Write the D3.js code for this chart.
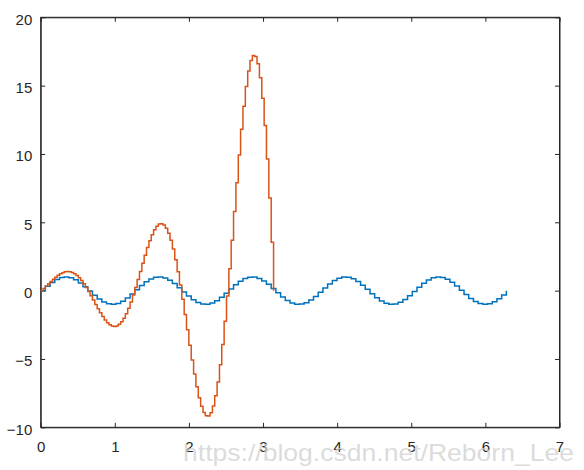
<!DOCTYPE html>
<html>
<head>
<meta charset="utf-8">
<script src="https://cdn.jsdelivr.net/npm/d3@7"></script>
<style>
  body { margin: 0; background: #fff; }
  svg { display: block; }
  .tick text { font-family: "Liberation Sans", Arial, sans-serif; font-size: 15px; fill: #262626; }
</style>
</head>
<body>
<svg width="584" height="470"></svg>
<script>
var svg = d3.select('svg');

// sample points of the two stairs series
var xBlue = [0, 0.063, 0.127, 0.190, 0.254, 0.317, 0.381, 0.444, 0.508, 0.571,
  0.635, 0.698, 0.762, 0.825, 0.889, 0.952, 1.015, 1.079, 1.142, 1.206,
  1.269, 1.333, 1.396, 1.460, 1.523, 1.587, 1.650, 1.714, 1.777, 1.841,
  1.904, 1.967, 2.031, 2.094, 2.158, 2.221, 2.285, 2.348, 2.412, 2.475,
  2.539, 2.602, 2.666, 2.729, 2.793, 2.856, 2.919, 2.983, 3.046, 3.110,
  3.173, 3.237, 3.300, 3.364, 3.427, 3.491, 3.554, 3.618, 3.681, 3.745,
  3.808, 3.871, 3.935, 3.998, 4.062, 4.125, 4.189, 4.252, 4.316, 4.379,
  4.443, 4.506, 4.570, 4.633, 4.697, 4.760, 4.823, 4.887, 4.950, 5.014,
  5.077, 5.141, 5.204, 5.268, 5.331, 5.395, 5.458, 5.522, 5.585, 5.649,
  5.712, 5.775, 5.839, 5.902, 5.966, 6.029, 6.093, 6.156, 6.220, 6.283];

var yBlue = [0, 0.312, 0.593, 0.815, 0.955, 1.000, 0.945, 0.796, 0.567, 0.282,
  -0.032, -0.342, -0.618, -0.833, -0.964, -0.999, -0.934, -0.776, -0.541, -0.251,
  0.063, 0.372, 0.643, 0.850, 0.972, 0.997, 0.922, 0.756, 0.514, 0.220,
  -0.095, -0.401, -0.667, -0.866, -0.979, -0.994, -0.910, -0.735, -0.486, -0.189,
  0.127, 0.430, 0.690, 0.881, 0.985, 0.990, 0.896, 0.713, 0.458, 0.158,
  -0.158, -0.458, -0.713, -0.896, -0.990, -0.985, -0.881, -0.690, -0.430, -0.127,
  0.189, 0.486, 0.735, 0.910, 0.994, 0.979, 0.866, 0.667, 0.401, 0.095,
  -0.220, -0.514, -0.756, -0.922, -0.997, -0.972, -0.850, -0.643, -0.372, -0.063,
  0.251, 0.541, 0.776, 0.934, 0.999, 0.964, 0.833, 0.618, 0.342, 0.032,
  -0.282, -0.567, -0.796, -0.945, -1.000, -0.955, -0.815, -0.593, -0.312, 0];

var xRed = [0, 0.032, 0.063, 0.095, 0.127, 0.159, 0.190, 0.222, 0.254, 0.286,
  0.317, 0.349, 0.381, 0.413, 0.444, 0.476, 0.508, 0.539, 0.571, 0.603,
  0.635, 0.666, 0.698, 0.730, 0.762, 0.793, 0.825, 0.857, 0.889, 0.920,
  0.952, 0.984, 1.015, 1.047, 1.079, 1.111, 1.142, 1.174, 1.206, 1.238,
  1.269, 1.301, 1.333, 1.365, 1.396, 1.428, 1.460, 1.491, 1.523, 1.555,
  1.587, 1.618, 1.650, 1.682, 1.714, 1.745, 1.777, 1.809, 1.841, 1.872,
  1.904, 1.936, 1.967, 1.999, 2.031, 2.063, 2.094, 2.126, 2.158, 2.190,
  2.221, 2.253, 2.285, 2.317, 2.348, 2.380, 2.412, 2.443, 2.475, 2.507,
  2.539, 2.570, 2.602, 2.634, 2.666, 2.697, 2.729, 2.761, 2.793, 2.824,
  2.856, 2.888, 2.919, 2.951, 2.983, 3.015, 3.046, 3.078, 3.110, 3.142];

var yRed = [0, 0.163, 0.332, 0.504, 0.673, 0.835, 0.985, 1.119, 1.231, 1.317,
  1.373, 1.396, 1.383, 1.332, 1.241, 1.111, 0.942, 0.737, 0.499, 0.231,
  -0.060, -0.369, -0.687, -1.009, -1.324, -1.624, -1.900, -2.143, -2.344, -2.494,
  -2.588, -2.618, -2.579, -2.468, -2.283, -2.025, -1.695, -1.297, -0.839, -0.328,
  0.226, 0.810, 1.409, 2.011, 2.597, 3.151, 3.658, 4.098, 4.457, 4.720,
  4.872, 4.902, 4.803, 4.567, 4.193, 3.682, 3.038, 2.268, 1.388, 0.413,
  -0.638, -1.740, -2.868, -3.992, -5.081, -6.105, -7.032, -7.829, -8.468, -8.920,
  -9.162, -9.172, -8.934, -8.441, -7.688, -6.679, -5.422, -3.937, -2.249, -0.390,
  1.603, 3.682, 5.797, 7.897, 9.921, 11.808, 13.500, 14.940, 16.071, 16.843,
  17.212, 17.140, 16.601, 15.579, 14.070, 12.082, 9.638, 6.775, 3.541, 0];

var xTicks = [0, 1, 2, 3, 4, 5, 6, 7];
var yTicks = [-10, -5, 0, 5, 10, 15, 20];

var plotLeft = 40.7, plotRight = 559.5, plotTop = 17.3, plotBottom = 427.3;

var x = d3.scaleLinear().domain([0, 7]).range([plotLeft, plotRight]);
var y = d3.scaleLinear().domain([-10, 20]).range([plotBottom, plotTop]);

var axisColor = '#262626';
var fmt = d3.format('d');

// box frame
svg.append('rect')
    .attr('x', plotLeft).attr('y', plotTop)
    .attr('width', plotRight - plotLeft).attr('height', plotBottom - plotTop)
    .attr('fill', 'none')
    .attr('stroke', axisColor)
    .attr('stroke-width', 1);

var gx = svg.append('g')
    .attr('transform', 'translate(0,' + plotBottom + ')')
    .call(d3.axisBottom(x).tickValues(xTicks).tickFormat(fmt).tickSize(-4.5).tickSizeOuter(0).tickPadding(14));

var gxTop = svg.append('g')
    .attr('transform', 'translate(0,' + plotTop + ')')
    .call(d3.axisTop(x).tickValues(xTicks).tickSize(-4.5).tickSizeOuter(0).tickFormat(''));

var gy = svg.append('g')
    .attr('transform', 'translate(' + plotLeft + ',0)')
    .call(d3.axisLeft(y).tickValues(yTicks).tickFormat(fmt).tickSize(-4.5).tickSizeOuter(0).tickPadding(8.4));
gy.selectAll('.tick text').attr('dy', '0.45em');

var gyRight = svg.append('g')
    .attr('transform', 'translate(' + plotRight + ',0)')
    .call(d3.axisRight(y).tickValues(yTicks).tickSize(-4.5).tickSizeOuter(0).tickFormat(''));

[gx, gxTop, gy, gyRight].forEach(function(g){
    g.select('.domain').attr('stroke', axisColor);
    g.selectAll('.tick line').attr('stroke', axisColor);
});

// stairs lines
var stairs = d3.line()
    .x(function(d){ return x(d[0]); })
    .y(function(d){ return y(d[1]); })
    .curve(d3.curveStepAfter);

var blueData = xBlue.map(function(v, i){ return [v, yBlue[i]]; });
var redData = xRed.map(function(v, i){ return [v, yRed[i]]; });

svg.append('path')
    .datum(blueData)
    .attr('d', stairs)
    .attr('fill', 'none')
    .attr('stroke', '#0072BD')
    .attr('stroke-width', 1.5);

svg.append('path')
    .datum(redData)
    .attr('d', stairs)
    .attr('fill', 'none')
    .attr('stroke', '#D95319')
    .attr('stroke-width', 1.5);

// watermark
svg.append('text')
    .attr('x', 183)
    .attr('y', 461)
    .attr('textLength', 391)
    .attr('lengthAdjust', 'spacingAndGlyphs')
    .attr('font-family', '"Liberation Sans", Arial, sans-serif')
    .attr('font-size', 24)
    .attr('fill', '#cfcfcf')
    .attr('fill-opacity', 0.75)
    .text('https://blog.csdn.net/Reborn_Lee');
</script>
</body>
</html>
